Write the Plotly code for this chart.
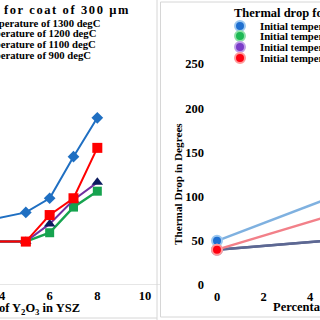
import plotly.graph_objects as go

W = H = 320
def px(x): return x / W
def py(y): return 1 - y / H

# ---------------- data ----------------
# left panel (x = % Y2O3)
left_x = [3, 5, 6, 7, 8]
left_1300 = [70, 81, 97, 144, 188]
left_1200 = [48, 48, 78, 97, 154]
left_1100 = [48, 48, 68, 95, 115]
left_900 = [48, 48, 58, 87, 105]

# right panel (x = percentage)
right_x = [0, 8]
drop_1300 = [50, 130]
drop_1200 = [40, 57]
drop_1100 = [40, 57]
drop_900 = [40, 103]

left_xticks = [4, 6, 8, 10]
right_xticks = [0, 2, 4]
right_yticks = [0, 50, 100, 150, 200, 250]

legend_labels = ["Initial temperature of 1300 degC", "Initial temperature of 1200 degC",
                 "Initial temperature of 1100 degC", "Initial temperature of 900 degC"]

SERIF = "Liberation Serif, Times New Roman, serif"
SCALE = 0.884  # px per unit

fig = go.Figure()

# left panel traces
fig.add_trace(go.Scatter(x=left_x, y=left_1300, mode="lines+markers", xaxis="x", yaxis="y",
                         line=dict(color="#1f6fc2", width=2),
                         marker=dict(symbol="diamond", size=9, color="#1f6fc2")))
fig.add_trace(go.Scatter(x=left_x, y=left_900, mode="lines+markers", xaxis="x", yaxis="y",
                         line=dict(color="#16a34f", width=2.5),
                         marker=dict(symbol="square", size=9, color="#16a34f")))
fig.add_trace(go.Scatter(x=left_x, y=left_1100, mode="lines+markers", xaxis="x", yaxis="y",
                         line=dict(color="#7030a0", width=2),
                         marker=dict(symbol="triangle-up", size=10, color="#0b1a5e")))
fig.add_trace(go.Scatter(x=left_x, y=left_1200, mode="lines+markers", xaxis="x", yaxis="y",
                         line=dict(color="#ff0000", width=2),
                         marker=dict(symbol="square", size=10, color="#ff0000")))

# right panel traces
right_series = [
    (drop_1300, "#7fb1e0", "#1f6fd0", "#9cc8f0"),
    (drop_1100, "#5d6893", "#1db954", "#8fe0a8"),
    (drop_1200, "#5d6893", "#7a3cc8", "#c0a0e8"),
    (drop_900, "#f28089", "#ff0010", "#ff9a9a"),
]
for vals, lc, mc, rc in right_series:
    fig.add_trace(go.Scatter(x=right_x, y=vals, mode="lines+markers", xaxis="x2", yaxis="y2",
                             line=dict(color=lc, width=2.5),
                             marker=dict(symbol="circle", size=10, color=mc,
                                         line=dict(color=rc, width=2))))

tickfont = dict(family=SERIF, size=12.5, color="black", weight="bold")

fig.update_layout(
    width=W, height=H, margin=dict(l=0, r=0, t=0, b=0, autoexpand=False),
    paper_bgcolor="white", plot_bgcolor="white", showlegend=False,
    xaxis=dict(domain=[0, 0.5], range=[4 - 2 / 23.83, 4 + 158 / 23.83], anchor="y",
               tickvals=left_xticks, showgrid=False, zeroline=False,
               showline=True, linecolor="#e6e6e6", linewidth=1,
               ticks="", tickfont=tickfont, ticklabeloverflow="allow"),
    yaxis=dict(domain=[py(284), 1], range=[0, 284 / SCALE], anchor="x",
               showticklabels=False, showgrid=False, zeroline=False, showline=False),
    xaxis2=dict(domain=[0.5, 1], range=[-57 / 23.25, 103 / 23.25], anchor="free",
                position=py(287), tickvals=right_xticks, showgrid=False, zeroline=False,
                showline=False, ticks="", tickfont=tickfont, ticklabeloverflow="allow"),
    yaxis2=dict(domain=[py(285), 1], range=[0, 285 / SCALE], anchor="free",
                position=px(204), side="left", tickvals=right_yticks,
                showgrid=False, zeroline=False, showline=False, ticks="",
                tickfont=tickfont, ticklabeloverflow="allow"),
)

ann = []
def add(text, x, y, size, xanchor="left", angle=0):
    ann.append(dict(text=text, x=px(x), y=py(y), xref="paper", yref="paper",
                    xanchor=xanchor, yanchor="middle", showarrow=False, textangle=angle,
                    font=dict(family=SERIF, size=size, color="black", weight="bold")))

# left legend (clipped)
add('<span style="letter-spacing:1.6px">for coat of 300 µm</span>', 2, 10, 12.5)
for lab, yy, xe in zip(legend_labels, [23, 33, 44, 55], [102, 98, 98, 93]):
    add(lab, xe, yy, 10.7, xanchor="right")

# right legend
add("Thermal drop for coat of 300 µm", 232, 13, 12.5)
for lab, yy in zip(legend_labels, [26, 36, 47, 58]):
    add(lab, 258, yy, 10.7)

# axis titles
add("Percentage of Y<sub>2</sub>O<sub>3</sub> in YSZ", 82, 309, 12.5, xanchor="right")
add("Percentage of Y<sub>2</sub>O<sub>3</sub> in YSZ", 271, 308, 12.5)
ann.append(dict(text="Thermal Drop in Degrees", x=px(178), y=py(184), xref="paper", yref="paper",
                xanchor="center", yanchor="middle", showarrow=False, textangle=-90,
                font=dict(family=SERIF, size=11.2, color="black", weight="bold")))
fig.update_layout(annotations=ann)

shapes = []
# panel frames
shapes.append(dict(type="line", xref="paper", yref="paper", x0=px(157), x1=px(157), y0=0, y1=1,
                   line=dict(color="#d6d6d6", width=1)))
shapes.append(dict(type="line", xref="paper", yref="paper", x0=0, x1=px(157), y0=py(318), y1=py(318),
                   line=dict(color="#d6d6d6", width=1)))
shapes.append(dict(type="line", xref="paper", yref="paper", x0=px(160.5), x1=px(160.5), y0=py(317), y1=py(2),
                   line=dict(color="#d6d6d6", width=1)))
shapes.append(dict(type="line", xref="paper", yref="paper", x0=px(160.5), x1=1, y0=py(2), y1=py(2),
                   line=dict(color="#d6d6d6", width=1)))
shapes.append(dict(type="line", xref="paper", yref="paper", x0=px(160.5), x1=1, y0=py(317), y1=py(317),
                   line=dict(color="#d6d6d6", width=1)))
# right legend symbols
legend_sym = [("#1f6fd0", "#9cc8f0"), ("#1db954", "#8fe0a8"), ("#7a3cc8", "#c0a0e8"), ("#ff0010", "#ff9a9a")]
for (mc, rc), yy in zip(legend_sym, [26, 36, 47, 58]):
    shapes.append(dict(type="circle", xref="paper", yref="paper",
                       x0=px(240 - 5), x1=px(240 + 5), y0=py(yy + 5), y1=py(yy - 5),
                       fillcolor=mc, line=dict(color=rc, width=2)))
fig.update_layout(shapes=shapes)

fig.write_html("out.html")
